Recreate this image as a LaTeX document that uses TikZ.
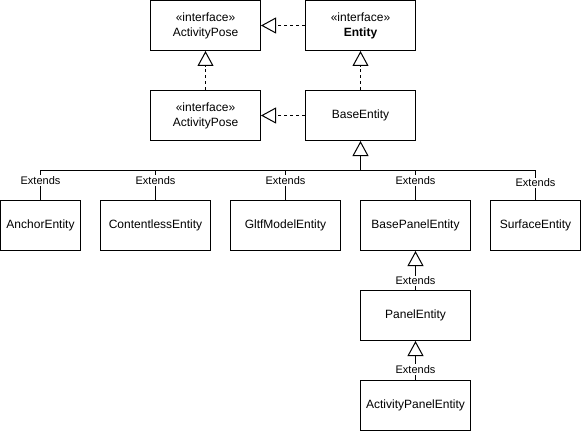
\documentclass[tikz,border=0pt]{standalone}
\usepackage{fontspec}
\setmainfont{Liberation Sans}
\usetikzlibrary{arrows.meta}
\tikzset{
  cls/.style={draw, line width=0.75pt, fill=white, minimum height=37.5pt, minimum width=82.5pt,
    inner sep=0pt, align=center, font=\fontsize{9}{11.25}\selectfont},
  tri/.style={-{Triangle[open, length=11.25pt, width=12pt]}},
  impl/.style={tri, line width=0.75pt, dash pattern=on 2.25pt off 2.25pt},
  ext/.style={tri, line width=0.75pt},
  plain/.style={line width=0.75pt},
  lbl/.style={fill=white, inner sep=1pt, font=\fontsize{8.25}{10}\selectfont},
}
\begin{document}
\begin{tikzpicture}[x=0.75pt, y=-0.75pt]
\useasboundingbox (-0.5,-0.5) rectangle (580.5,430.5);
\node[cls] (ap1) at (205,25) {«interface»\\ActivityPose};
\node[cls] (ent) at (360,25) {«interface»\\\textbf{Entity}};
\node[cls] (ap2) at (205,115) {«interface»\\ActivityPose};
\node[cls] (base) at (360,115) {BaseEntity};
\node[cls, minimum width=60pt] (anchor) at (40,225) {AnchorEntity};
\node[cls] (content) at (155,225) {ContentlessEntity};
\node[cls] (gltf) at (285,225) {GltfModelEntity};
\node[cls] (bpanel) at (415,225) {BasePanelEntity};
\node[cls, minimum width=67.5pt] (surface) at (535,225) {SurfaceEntity};
\node[cls] (panel) at (415,315) {PanelEntity};
\node[cls] (apanel) at (415,405) {ActivityPanelEntity};
\coordinate (bus) at (360,170);

\draw[impl] (ent) -- (ap1);
\draw[impl] (base) -- (ap2);
\draw[impl] (ap2) -- (ap1);
\draw[impl] (base) -- (ent);

\draw[ext] (anchor.north) |- node[lbl, pos=0.333] {Extends} (bus) -- (base.south);
\draw[plain] (content.north) |- node[lbl, pos=0.333] {Extends} (bus);
\draw[plain] (gltf.north) |- node[lbl, pos=0.333] {Extends} (bus);
\draw[plain] (bpanel.north) |- node[lbl, pos=0.333] {Extends} (bus);
\draw[plain] (surface.north) |- node[lbl, pos=0.29] {Extends} (bus);
\draw[ext] (panel.north) -- node[lbl, pos=0.23] {Extends} (bpanel.south);
\draw[ext] (apanel.north) -- node[lbl, pos=0.27] {Extends} (panel.south);
\end{tikzpicture}
\end{document}
